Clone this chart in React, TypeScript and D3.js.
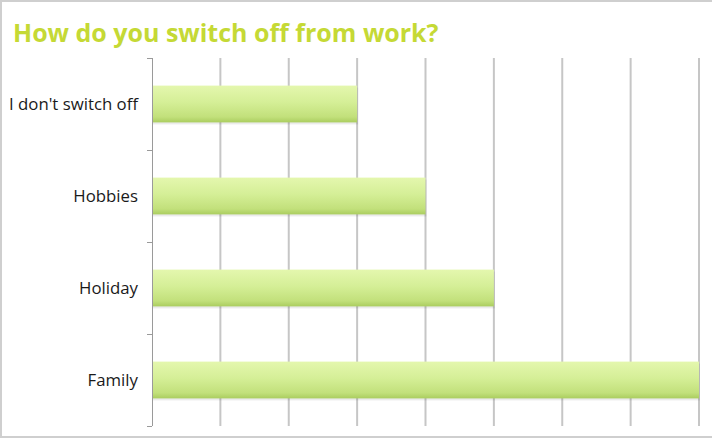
import { useEffect, useRef } from 'react';
import * as d3 from 'd3';

const categories = ["I don't switch off", 'Hobbies', 'Holiday', 'Family'];
const values = [3, 4, 5, 8];
const xTicks = [0, 1, 2, 3, 4, 5, 6, 7, 8];

const App = () => {
    const svgRef = useRef<SVGSVGElement>(null);

    useEffect(() => {
        if (!svgRef.current) return;
        const svg = d3.select(svgRef.current);
        svg.selectAll('*').remove();

        const width = 712;
        const height = 440;
        const margin = { top: 58, right: 13, bottom: 14, left: 152 };

        // frame
        svg.append('rect')
            .attr('x', 1).attr('y', 1)
            .attr('width', width + 4).attr('height', height - 4)
            .attr('fill', 'white')
            .attr('stroke', '#cfcfcf')
            .attr('stroke-width', 2);

        const defs = svg.append('defs');
        const grad = defs.append('linearGradient')
            .attr('id', 'barGrad')
            .attr('x1', 0).attr('y1', 0).attr('x2', 0).attr('y2', 1);
        grad.append('stop').attr('offset', '0%').attr('stop-color', '#e4f7ae');
        grad.append('stop').attr('offset', '45%').attr('stop-color', '#d5ef97');
        grad.append('stop').attr('offset', '85%').attr('stop-color', '#c2e07b');
        grad.append('stop').attr('offset', '100%').attr('stop-color', '#aacd5f');

        svg.append('text')
            .attr('x', 13)
            .attr('y', 42)
            .attr('font-family', 'Open Sans, sans-serif')
            .attr('font-weight', 'bold')
            .attr('font-size', 25)
            .attr('fill', '#c5d935')
            .text('How do you switch off from work?');

        const x = d3.scaleLinear()
            .domain([0, 8])
            .range([margin.left, width - margin.right]);

        const y = d3.scaleBand()
            .domain(categories)
            .range([margin.top, height - margin.bottom])
            .paddingInner(0.6)
            .paddingOuter(0.3);

        const yBounds = d3.scaleLinear()
            .domain([0, categories.length])
            .range([margin.top, height - margin.bottom]);

        // vertical grid lines
        svg.append('g')
            .selectAll('line')
            .data(xTicks.slice(1))
            .enter()
            .append('line')
            .attr('x1', d => x(d)).attr('x2', d => x(d))
            .attr('y1', margin.top).attr('y2', height - margin.bottom)
            .attr('stroke', '#c6c6c6')
            .attr('stroke-width', 2);

        // bar shadows
        svg.append('g')
            .selectAll('rect')
            .data(values)
            .enter()
            .append('rect')
            .attr('x', x(0) + 1)
            .attr('y', (_d, i) => (y(categories[i]) as number) + 2)
            .attr('width', d => x(d) - x(0))
            .attr('height', y.bandwidth())
            .attr('fill', '#000')
            .attr('opacity', 0.08);

        // bars
        svg.append('g')
            .selectAll('rect')
            .data(values)
            .enter()
            .append('rect')
            .attr('x', x(0))
            .attr('y', (_d, i) => y(categories[i]) as number)
            .attr('width', d => x(d) - x(0))
            .attr('height', y.bandwidth())
            .attr('fill', 'url(#barGrad)');

        // axis line and ticks
        svg.append('line')
            .attr('x1', x(0) + 0.5).attr('x2', x(0) + 0.5)
            .attr('y1', margin.top).attr('y2', height - margin.bottom)
            .attr('stroke', '#9a9a9a')
            .attr('stroke-width', 1);

        svg.append('g')
            .selectAll('line')
            .data(d3.range(categories.length + 1))
            .enter()
            .append('line')
            .attr('x1', x(0) - 5).attr('x2', x(0))
            .attr('y1', d => yBounds(d) + 0.5).attr('y2', d => yBounds(d) + 0.5)
            .attr('stroke', '#9a9a9a')
            .attr('stroke-width', 1);

        // category labels
        svg.append('g')
            .selectAll('text')
            .data(categories)
            .enter()
            .append('text')
            .attr('x', x(0) - 14)
            .attr('y', d => (y(d) as number) + y.bandwidth() / 2)
            .attr('dy', '0.35em')
            .attr('text-anchor', 'end')
            .attr('font-family', 'Open Sans, sans-serif')
            .attr('font-size', 16.8)
            .attr('fill', '#1a1a1a')
            .text(d => d);
    }, []);

    return (
        <svg
            ref={svgRef}
            width={712}
            height={440}
            style={{ position: 'absolute', left: 0, top: 0, display: 'block' }}
        />
    );
};

export default App;
